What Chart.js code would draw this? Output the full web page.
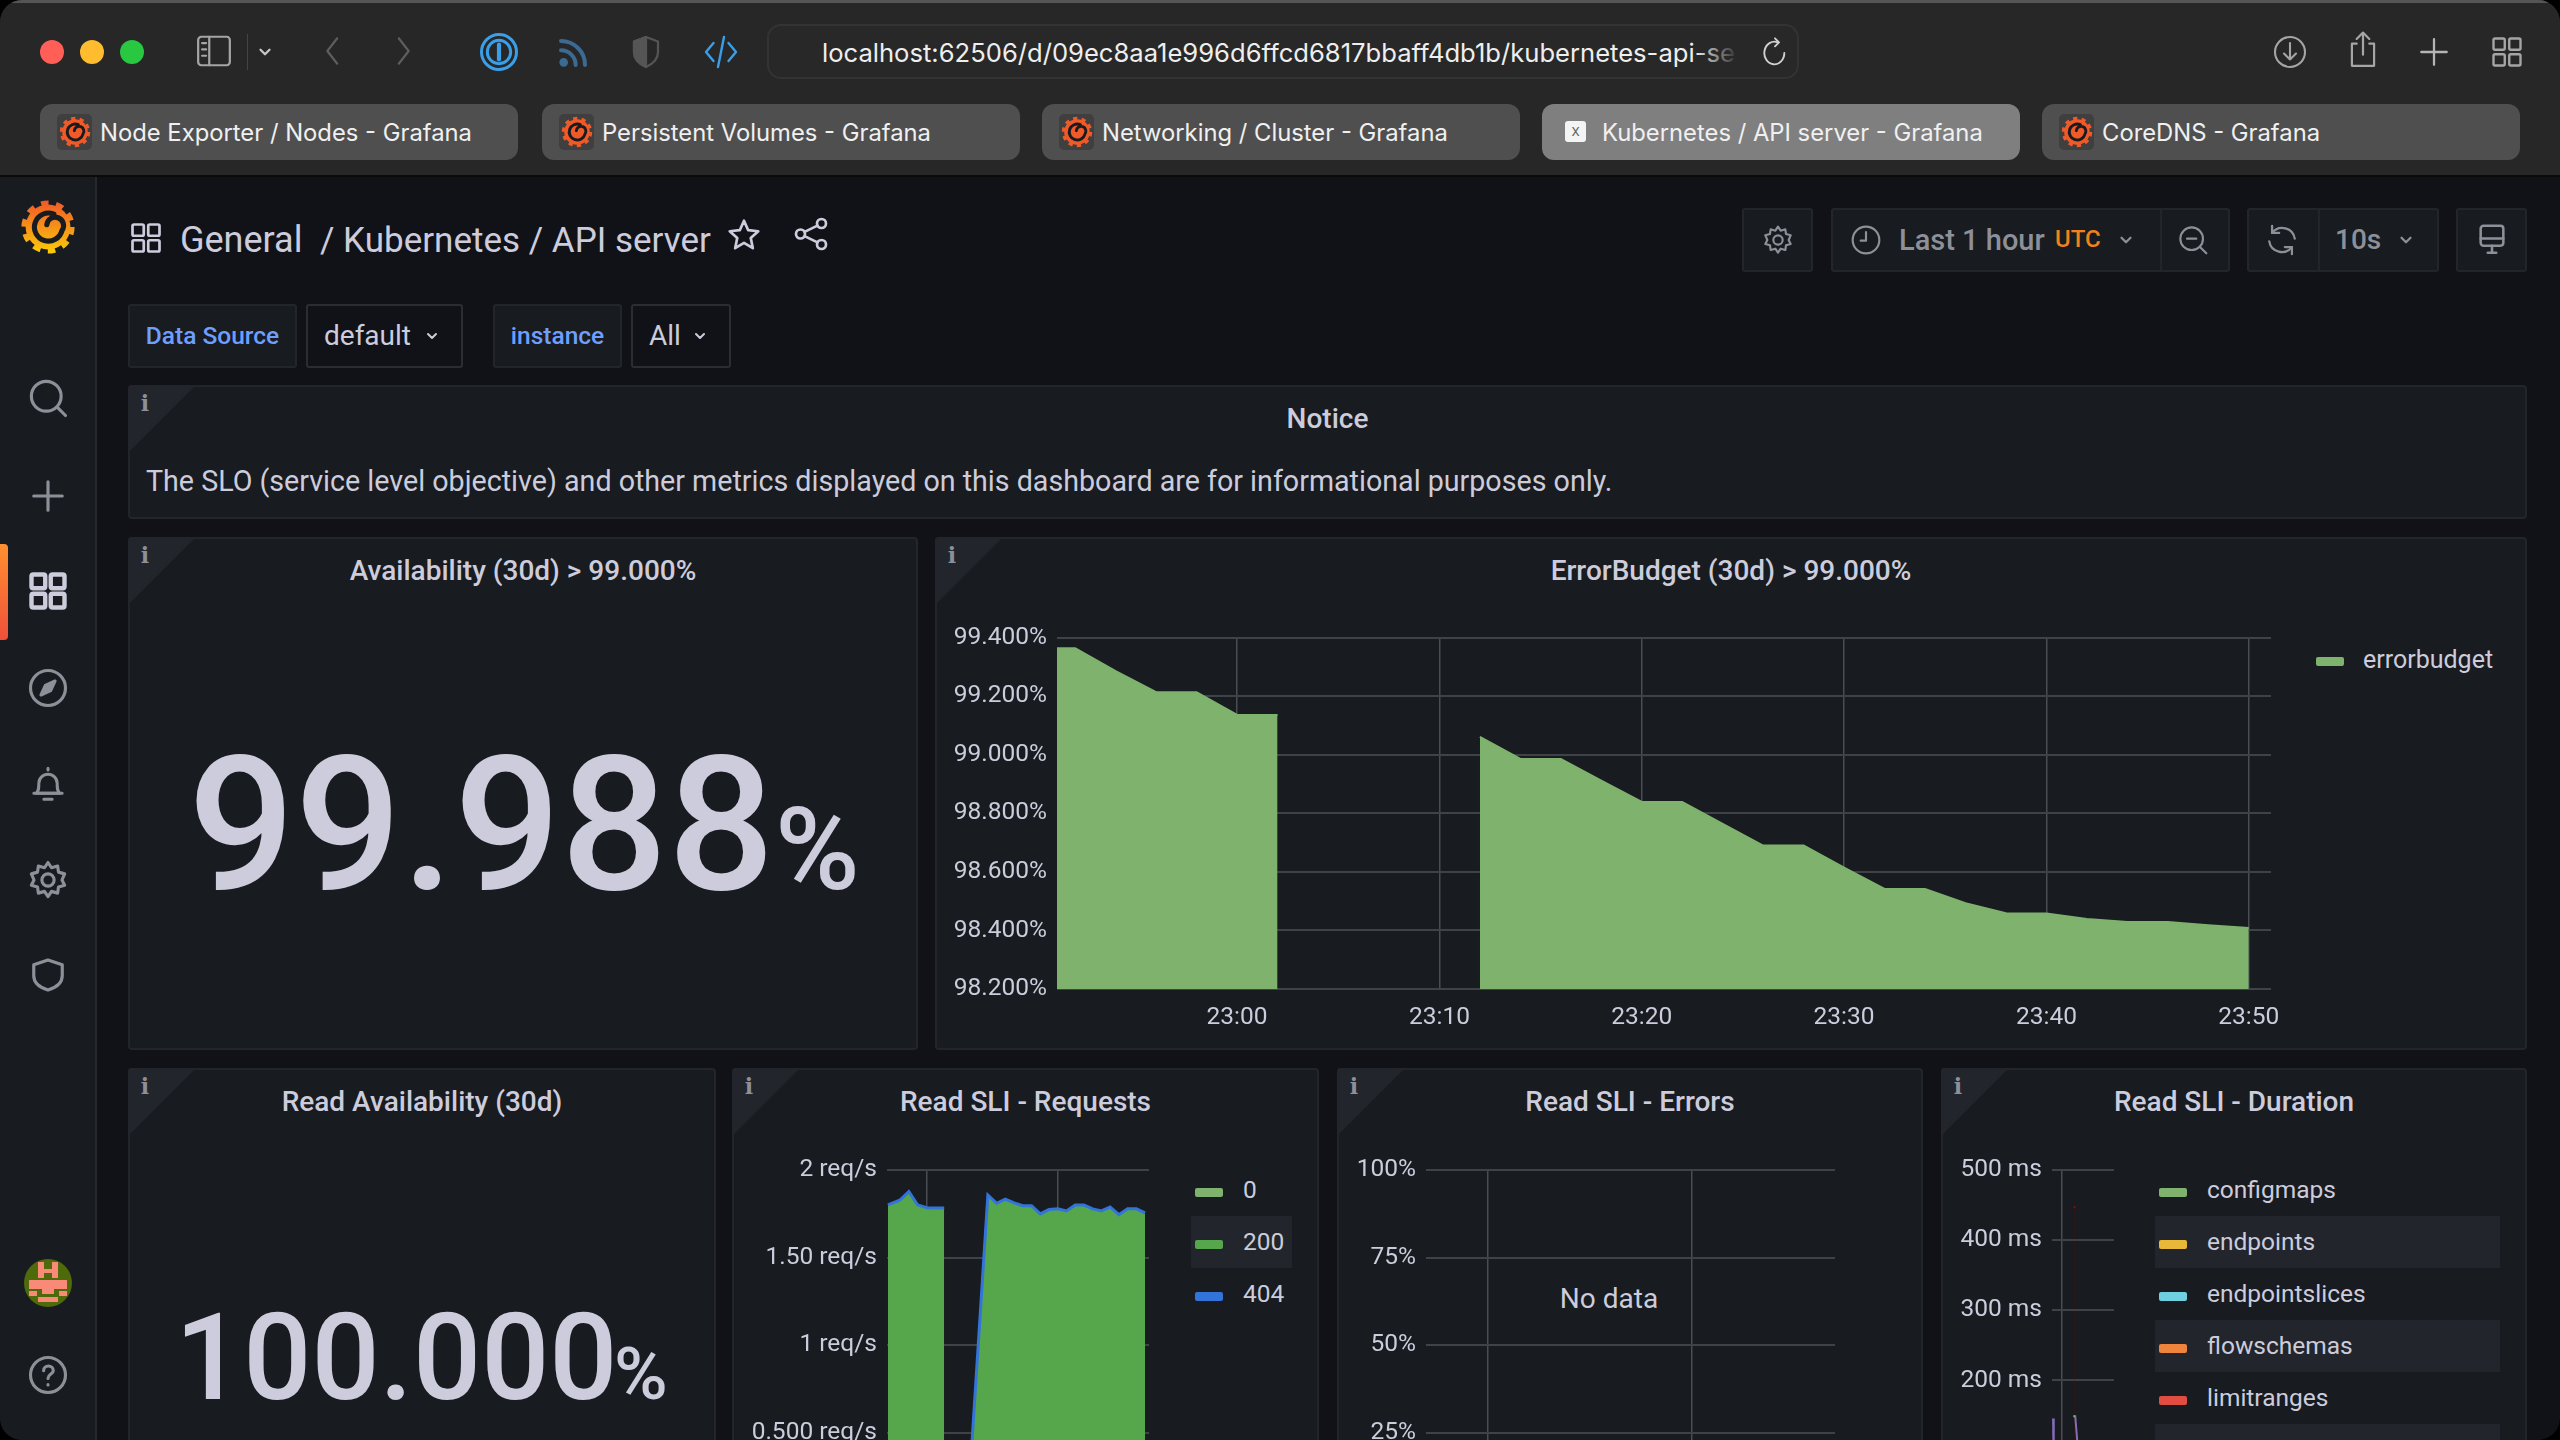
<!DOCTYPE html>
<html>
<head>
<meta charset="utf-8">
<title>Kubernetes / API server - Grafana</title>
<script src="https://cdn.jsdelivr.net/npm/chart.js@4"></script>
<style>
html, body { margin: 0; background: #000; overflow: hidden; width: 2560px; height: 1440px; }
#win { position: absolute; left: 0; top: 0; width: 2560px; height: 1440px; overflow: hidden; border-radius: 22px; background: #111217; font-family: Roboto, sans-serif; color: #ccccdc; }
#win div, #win canvas, #win svg { position: absolute; }
.t { white-space: pre; line-height: 1; }
</style>
</head>
<body>
<div id="win"></div>
<script>
// error budget panel, minutes relative to 23:00
var budgetMinutes = [-8.9, -8, -6, -4, -2, 0, 2, 7, 12, 14, 16, 18, 20, 22, 24, 26, 28, 30, 32, 34, 36, 38, 40, 42, 44, 46, 48, 50];
var budgetValues = [99.364, 99.364, 99.286, 99.214, 99.214, 99.136, 99.136, null, 99.061, 98.986, 98.986, 98.912, 98.839, 98.839, 98.764, 98.690, 98.690, 98.615, 98.542, 98.542, 98.493, 98.459, 98.458, 98.439, 98.429, 98.429, 98.418, 98.408];
var budgetYTicks = [98.2, 98.4, 98.6, 98.8, 99, 99.2, 99.4];
var budgetYLabels = ['98.200%', '98.400%', '98.600%', '98.800%', '99.000%', '99.200%', '99.400%'];
var budgetXTicks = [0, 10, 20, 30, 40, 50];
var budgetXLabels = ['23:00', '23:10', '23:20', '23:30', '23:40', '23:50'];

// read requests panel
var requestMinutes = [-8.9, -6.2, -4.1, -2.1, 0, 2, 4, 6, 9.2, 14, 16, 18, 20, 22, 24, 26, 28, 30, 32, 34, 36, 38, 40, 42, 44, 46, 48, 50];
var requests200 = [1.80, 1.826, 1.875, 1.80, 1.784, 1.782, 1.782, null, 0, 1.856, 1.809, 1.833, 1.811, 1.795, 1.795, 1.748, 1.773, 1.777, 1.765, 1.799, 1.799, 1.777, 1.765, 1.788, 1.744, 1.777, 1.777, 1.754];
var requests404 = [0, 0, 0, 0, 0, 0, 0, null, 0, 0, 0, 0, 0, 0, 0, 0, 0, 0, 0, 0, 0, 0, 0, 0, 0, 0, 0, 0];
var requests0 = [0, 0, 0, 0, 0, 0, 0, null, 0, 0, 0, 0, 0, 0, 0, 0, 0, 0, 0, 0, 0, 0, 0, 0, 0, 0, 0, 0];
var requestYTicks = [0, 0.5, 1, 1.5, 2];
var requestYLabels = ['0 req/s', '0.500 req/s', '1 req/s', '1.50 req/s', '2 req/s'];
var requestLegend = ['0', '200', '404'];
var requestColors = ['#7EB26D', '#56A64B', '#3274D9'];

// read errors panel
var errorYTicks = [0, 0.25, 0.5, 0.75, 1];
var errorYLabels = ['0%', '25%', '50%', '75%', '100%'];

// shared by the small panels
var smallXTicks = [0, 30];
var smallXLabels = ['23:00', '23:30'];

// read duration panel, only the parts above the window edge can be read
var durationMinutesA = [-8.7, -8, -7.4];
var durationPurpleA = [146, 100, 0];
var durationMagentaA = [130, 130, 0];
var durationMinutesB = [10.8, 12.8, 15.5, 18];
var durationPurpleB = [149, 149, 100, 0];
var durationGreenMinutes = [11.4, 12.6];
var durationGreen = [149, 149];
var durationPeakMinutes = [11.3, 13];
var durationPeak = [447, 447];
var durationYTicks = [0, 100, 200, 300, 400, 500];
var durationYLabels = ['0 ms', '100 ms', '200 ms', '300 ms', '400 ms', '500 ms'];
var durationLegend = ['configmaps', 'endpoints', 'endpointslices', 'flowschemas', 'limitranges'];
var durationColors = ['#7EB26D', '#EAB839', '#6ED0E0', '#EF843C', '#E24D42'];

var tabTitles = ['Node Exporter / Nodes - Grafana', 'Persistent Volumes - Grafana', 'Networking / Cluster - Grafana', 'Kubernetes / API server - Grafana', 'CoreDNS - Grafana'];

var win = document.getElementById('win');

function box(x, y, w, h, bg, extra) {
   var d = document.createElement('div');
   d.style.cssText = 'left:' + x + 'px;top:' + y + 'px;width:' + w + 'px;height:' + h + 'px;background:' + bg + ';' + (extra || '');
   win.appendChild(d);
   return d;
}

// x is left edge, or centre with align 'c'; y is the visual middle of the text
function txt(x, y, text, size, color, weight, align, family) {
   var d = document.createElement('div');
   d.className = 't';
   d.textContent = text;
   var tx = align == 'c' ? '-50%' : '0';
   d.style.cssText = 'left:' + x + 'px;top:' + y + 'px;font-size:' + size + 'px;color:' + (color || '#ccccdc') + ';font-weight:' + (weight || 400) +
      ';transform:translate(' + tx + ',-50%);' + (family ? 'font-family:' + family + ';' : '');
   win.appendChild(d);
   return d;
}

function icon(cx, cy, size, body, color, sw) {
   var s = document.createElementNS('http://www.w3.org/2000/svg', 'svg');
   s.setAttribute('viewBox', '0 0 24 24');
   s.setAttribute('width', size);
   s.setAttribute('height', size);
   s.style.left = (cx - size / 2) + 'px';
   s.style.top = (cy - size / 2) + 'px';
   s.style.fill = 'none';
   s.style.stroke = color;
   s.style.color = color;
   s.style.strokeWidth = sw || 1.8;
   s.style.strokeLinecap = 'round';
   s.style.strokeLinejoin = 'round';
   s.innerHTML = body;
   win.appendChild(s);
}

var ICONS = {
   chevDown: '<path d="M6 9l6 6 6-6"/>',
   left: '<path d="M15 3L8 12l7 9"/>',
   right: '<path d="M9 3l7 9-7 9"/>',
   grid: '<rect x="3" y="3" width="7.5" height="7.5" rx="1"/><rect x="13.5" y="3" width="7.5" height="7.5" rx="1"/><rect x="3" y="13.5" width="7.5" height="7.5" rx="1"/><rect x="13.5" y="13.5" width="7.5" height="7.5" rx="1"/>',
   search: '<circle cx="11" cy="11" r="8.5"/><path d="M17.2 17.2L22 22"/>',
   plus: '<path d="M12 3v18M3 12h18"/>',
   compass: '<circle cx="12" cy="12" r="10"/><path d="M16 8l-5.5 2.5L8 16l5.5-2.5z" fill="currentColor"/>',
   bell: '<path d="M5 17c1.5-1.5 1.5-3 1.5-6a5.5 5.5 0 0111 0c0 3 0 4.500 1.500 6z"/><path d="M3.500 17h17M9.500 20.500h5M12 3V2"/>',
   gear: '<circle cx="12" cy="12" r="3.5"/><path d="M12 2l2 3 3.500-1 .5 3.500 3.500 1-1.500 3.500 1.500 3-3.500 1-.5 3.500-3.500-1-2 3-2-3-3.500 1-.5-3.500-3.500-1 1.500-3-1.500-3.500 3.500-1 .5-3.500 3.500 1z"/>',
   shield: '<path d="M12 2.500l9 3v7c0 4.500-4 7.500-9 9-5-1.500-9-4.500-9-9v-7z"/>',
   help: '<circle cx="12" cy="12" r="10"/><path d="M9.500 9.500c0-3.500 5.500-3.500 5.500 0 0 2-3 2-3 4.500M12 17.500v.2"/>',
   star: '<path d="M12 2.500l2.800 6.300 6.700.7-5 4.500 1.400 6.800L12 17.300l-5.900 3.500 1.400-6.800-5-4.500 6.700-.7z"/>',
   share: '<circle cx="5" cy="12" r="3"/><circle cx="19" cy="5" r="3"/><circle cx="19" cy="19" r="3"/><path d="M7.700 10.600l8.600-4.200M7.700 13.400l8.600 4.200"/>',
   clock: '<circle cx="12" cy="12" r="10"/><path d="M12 6v6.500H8"/>',
   zoomOut: '<circle cx="11" cy="11" r="8.500"/><path d="M17.200 17.200L22 22M7.500 11h7"/>',
   refresh: '<path d="M5 7a9 9 0 0116 4M19 17A9 9 0 013 13"/><path d="M5 2v5h5M19 22v-5h-5"/>',
   monitor: '<rect x="4" y="2" width="16" height="14" rx="2"/><path d="M4 11h16M9 21h6M12 16v5"/>',
   reload: '<path d="M19 12a7.500 8.500 0 11-5-8"/><path d="M12 1l3 3-3 3"/>',
   download: '<circle cx="12" cy="12" r="10"/><path d="M12 6v11M8 13l4 4 4-4"/>',
   upload: '<path d="M8 8H5v14h14V8h-3M12 15V1M8 5l4-4 4 4"/>',
   sidebar: '<rect x="2" y="3" width="20" height="18" rx="2"/><path d="M9 3v18M4.500 7H7M4.500 11H7M4.500 15H7"/>',
   rss: '<circle cx="5" cy="19" r="2.500" fill="currentColor"/><path d="M3 10a11 11 0 0111 11M3 3a18 18 0 0118 18" stroke-width="3"/>',
   code: '<path d="M7 6l-5 6 5 6M17 6l5 6-5 6M14 2l-4 20"/>',
   shieldHalf: '<path d="M12 2l8 3v7c0 5-3.500 8-8 10-4.500-2-8-5-8-10V5z"/><path d="M12 2v20c-4.500-2-8-5-8-10V5z" fill="currentColor"/>',
   onePass: '<circle cx="12" cy="12" r="10.500"/><circle cx="12" cy="12" r="7"/><path d="M12 7.500v9" stroke-width="2.500"/>'
};

// grafana logo: toothed disc with a spiral
function logo(cx, cy, size, flat) {
   var fill = flat ? '#f05a28' : 'url(#gf)';
   var defs = flat ? '' : '<defs><linearGradient id="gf" gradientUnits="userSpaceOnUse" x1="12" y1="1" x2="12" y2="23"><stop offset="0" stop-color="#f05a28"/><stop offset="1" stop-color="#fbca0a"/></linearGradient></defs>';
   var s = document.createElementNS('http://www.w3.org/2000/svg', 'svg');
   s.setAttribute('viewBox', '0 0 24 24');
   s.setAttribute('width', size);
   s.setAttribute('height', size);
   s.style.left = (cx - size / 2) + 'px';
   s.style.top = (cy - size / 2) + 'px';
   s.innerHTML = defs + '<circle cx="12" cy="12" r="9.600" fill="' + fill + '"/><circle cx="12" cy="12" r="10.200" fill="none" stroke="' + fill + '" stroke-width="2.400" stroke-dasharray="3.200 3.200"/>' +
      '<path d="M14.500 6.500a6 6 0 10 3.500 7 3.600 3.600 0 10-6.500-2.500" fill="none" stroke="#181b1f" stroke-width="2.200" stroke-linecap="round"/>';
   win.appendChild(s);
}

// ---- browser chrome
box(0, 0, 2560, 176, '#272727');
box(0, 0, 2560, 3, '#555');
box(0, 175, 2560, 2, '#0a0a0a');
[['#ff5f57', 52], ['#febc2e', 91.5], ['#28c840', 131.5]].forEach(function(l) {
   box(l[1] - 12, 40, 24, 24, l[0], 'border-radius:50%');
});
icon(214, 51, 38, ICONS.sidebar, '#a5a5a5', 1.4);
box(247, 34, 1, 36, '#444');
icon(265, 52, 18, ICONS.chevDown, '#c8c8c8', 3);
icon(333, 51, 34, ICONS.left, '#5e5e5e', 1.5);
icon(403, 51, 34, ICONS.right, '#5e5e5e', 1.5);
icon(499, 52, 40, ICONS.onePass, '#3a9fe8', 1.8);
icon(573, 53, 32, ICONS.rss, '#3b6a92', 1.5);
icon(646, 52, 36, ICONS.shieldHalf, '#555', 1.5);
icon(721, 52, 36, ICONS.code, '#3a9fe8', 1.6);
box(767, 24, 1032, 55, '#282828', 'box-sizing:border-box;border:2px solid #333;border-radius:14px');
txt(822, 53, 'localhost:62506/d/09ec8aa1e996d6ffcd6817bbaff4db1b/kubernetes-api-se', 25.6, '#eeeeee', 400, 'l', 'Inter');
box(1695, 30, 44, 44, 'linear-gradient(90deg,rgba(40,40,40,0),#282828)');
box(1739, 30, 20, 44, '#282828');
icon(1775, 53, 32, ICONS.reload, '#d0d0d0', 1.4);
icon(2290, 52, 36, ICONS.download, '#a5a5a5', 1.4);
icon(2363, 50, 38, ICONS.upload, '#a5a5a5', 1.4);
icon(2434, 52, 34, ICONS.plus, '#b5b5b5', 1.6);
icon(2507, 52, 36, ICONS.grid, '#a5a5a5', 1.6);

var tabLefts = [40, 542, 1042, 1542, 2042];
tabTitles.forEach(function(title, i) {
   var active = i == 3;
   box(tabLefts[i], 104, 478, 56, active ? '#7f7f7f' : '#4f4f4f', 'border-radius:12px');
   if (active) {
      box(tabLefts[i] + 23, 121, 21, 21, '#f4f4f4', 'border-radius:3px');
      txt(tabLefts[i] + 33.500, 131, 'X', 13, '#666', 400, 'c');
   } else {
      box(tabLefts[i] + 17, 114, 35, 36, '#3f3f3f', 'border-radius:5px');
      logo(tabLefts[i] + 34.500, 132, 32, true);
   }
   txt(tabLefts[i] + 60, 133, title, 23.8, '#f0f0f0', 400, 'l', 'Inter');
});

// ---- grafana sidebar
box(0, 177, 96, 1263, '#181b1f');
box(95, 177, 2, 1263, '#25282e');
box(0, 544, 8, 96, 'linear-gradient(#ff9030,#f0503a)', 'border-radius:0 4px 4px 0');
logo(48, 227, 56, false);
icon(48, 398, 42, ICONS.search, '#8e9099', 1.8);
icon(48, 496, 38, ICONS.plus, '#8e9099', 2);
icon(48, 591, 44, ICONS.grid, '#ccccdc', 2.4);
icon(48, 688, 42, ICONS.compass, '#8e9099', 1.8);
icon(48, 785, 40, ICONS.bell, '#8e9099', 1.8);
icon(48, 880, 42, ICONS.gear, '#8e9099', 1.8);
icon(48, 975, 38, ICONS.shield, '#8e9099', 2);
box(24, 1259, 48, 48, '#4f6a0a', 'border-radius:50%');
[[38, 1262, 6, 16], [52, 1262, 6, 16], [38, 1269, 20, 4], [29, 1280, 38, 9], [42, 1289, 12, 5], [38, 1297, 20, 5], [29, 1291, 8, 5], [59, 1291, 8, 5]].forEach(function(r) {
   box(r[0], r[1], r[2], r[3], '#f98a78');
});
icon(48, 1375, 42, ICONS.help, '#8e9099', 1.8);

// ---- dashboard header
icon(146, 238, 36, ICONS.grid, '#ccccdc', 1.8);
txt(180, 240, 'General', 36, '#ccccdc');
txt(320, 240, '/ Kubernetes / API server', 35, '#ccccdc');
icon(744, 235, 36, ICONS.star, '#ccccdc', 1.8);
icon(811, 234, 36, ICONS.share, '#ccccdc', 1.8);

function varBox(x, w, label) {
   box(x, 304, w, 64, '#181b1f', 'box-sizing:border-box;border:2px solid #22252b;border-radius:3px');
   txt(x + w / 2, 336, label, 24.5, '#6e9fff', 500, 'c');
}
function varSelect(x, w, label) {
   box(x, 304, w, 64, '#111217', 'box-sizing:border-box;border:2px solid #2a2d33;border-radius:3px');
   txt(x + 18, 336, label, 28, '#ccccdc');
   icon(x + w - 31, 336, 16, ICONS.chevDown, '#ccccdc', 3);
}
varBox(128, 169, 'Data Source');
varSelect(306, 157, 'default');
varBox(493, 129, 'instance');
varSelect(631, 100, 'All');

function toolBtn(x, w) {
   box(x, 208, w, 64, '#181b1f', 'box-sizing:border-box;border:2px solid #22252b;border-radius:3px');
}
toolBtn(1742, 71);
icon(1778, 240, 32, ICONS.gear, '#8e9099', 1.6);
toolBtn(1831, 399);
box(2160, 210, 2, 60, '#22252b');
icon(1866, 240, 32, ICONS.clock, '#8e9099', 1.6);
txt(1899, 240, 'Last 1 hour', 29, '#8e9099', 500);
txt(2055, 239, 'UTC', 24, '#f2801c', 500);
icon(2126, 240, 18, ICONS.chevDown, '#8e9099', 3);
icon(2193, 240, 32, ICONS.zoomOut, '#8e9099', 1.6);
toolBtn(2247, 192);
box(2318, 210, 2, 60, '#22252b');
icon(2282, 240, 34, ICONS.refresh, '#8e9099', 1.6);
txt(2335, 240, '10s', 28, '#8e9099', 500);
icon(2406, 240, 18, ICONS.chevDown, '#8e9099', 3);
toolBtn(2456, 71);
icon(2492, 240, 34, ICONS.monitor, '#8e9099', 1.8);

// ---- panels
function panel(x, y, w, h, title) {
   box(x, y, w, h, '#181b1f', 'box-sizing:border-box;border:2px solid #22252b;border-radius:4px');
   box(x, y, 68, 68, '#22252b', 'clip-path:polygon(0 0,100% 0,0 100%);border-radius:4px 0 0 0');
   txt(x + 17, y + 18, 'i', 22, '#8e9099', 700, 'c', 'DejaVu Serif');
   txt(x + w / 2, y + 34, title, 28, '#ccccdc', 500, 'c');
}
panel(128, 385, 2399, 134, 'Notice');
txt(146, 481, 'The SLO (service level objective) and other metrics displayed on this dashboard are for informational purposes only.', 28.65, '#ccccdc');
panel(128, 537, 790, 513, 'Availability (30d) > 99.000%');
panel(935, 537, 1592, 513, 'ErrorBudget (30d) > 99.000%');
panel(128, 1068, 588, 500, 'Read Availability (30d)');
panel(732, 1068, 587, 500, 'Read SLI - Requests');
panel(1337, 1068, 586, 500, 'Read SLI - Errors');
panel(1941, 1068, 586, 500, 'Read SLI - Duration');

txt(188, 825, '99.988', 188, '#ccccdc', 500);
txt(775, 849, '%', 115, '#ccccdc', 500);
txt(175, 1358, '100.000', 120, '#ccccdc', 500);
txt(614, 1374, '%', 73, '#ccccdc', 500);
txt(1609, 1299, 'No data', 28, '#ccccdc', 400, 'c');

// ---- legends
function legendRow(swatchX, textX, y, name, color, size) {
   box(swatchX, y - 2, 28, 9, color, 'border-radius:2px');
   txt(textX, y, name, size || 24.500, '#ccccdc');
}
legendRow(2316, 2363, 659, 'errorbudget', '#7EB26D', 25);

box(1191, 1216, 101, 52, '#22252b');
requestLegend.forEach(function(name, i) {
   legendRow(1195, 1243, 1190 + i * 52, name, requestColors[i]);
});

box(2155, 1216, 345, 52, '#22252b');
box(2155, 1320, 345, 52, '#22252b');
box(2155, 1424, 345, 52, '#22252b');
durationLegend.forEach(function(name, i) {
   legendRow(2159, 2207, 1190 + i * 52, name, durationColors[i]);
});

// ---- charts
function makeChart(plot, xMin, xMax, xTicks, xLabels, yMax, yMin, yTicks, yLabels, axisW, datasets, stacked) {
   var padTop = 24, padRight = 44, xH = 56;
   var c = document.createElement('canvas');
   c.width = plot.right - plot.left + axisW + padRight;
   c.height = plot.bottom - plot.top + padTop + xH;
   c.style.left = (plot.left - axisW) + 'px';
   c.style.top = (plot.top - padTop) + 'px';
   win.appendChild(c);
   var tickFont = { family: 'Roboto', size: 24.5 };
   return new Chart(c.getContext('2d'), {
      type: 'line',
      data: { datasets: datasets },
      options: {
         responsive: false,
         animation: false,
         events: [],
         layout: { padding: { top: padTop, right: padRight, left: 0, bottom: 0 } },
         elements: { point: { radius: 0 }, line: { tension: 0 } },
         plugins: { legend: { display: false }, tooltip: { enabled: false }, filler: { drawTime: 'beforeDatasetsDraw' } },
         scales: {
            x: {
               type: 'linear',
               min: xMin,
               max: xMax,
               afterFit: function(s) { s.height = xH; },
               afterBuildTicks: function(s) { s.ticks = xTicks.map(function(v) { return { value: v }; }); },
               grid: { color: '#4a4d52', lineWidth: 1.5, drawTicks: false },
               border: { display: false },
               ticks: {
                  color: '#ccccdc', font: tickFont, padding: 14, autoSkip: false, maxRotation: 0,
                  callback: function(v, i) { return xLabels[i]; }
               }
            },
            y: {
               min: yMin,
               max: yMax,
               stacked: !!stacked,
               afterFit: function(s) { s.width = axisW; },
               afterBuildTicks: function(s) { s.ticks = yTicks.map(function(v) { return { value: v }; }); },
               grid: { color: '#3f4246', lineWidth: 2, drawTicks: false },
               border: { display: false },
               ticks: {
                  color: '#ccccdc', font: tickFont, padding: 10, autoSkip: false,
                  callback: function(v, i) { return yLabels[i]; }
               }
            }
         }
      }
   });
}

function pts(xs, ys) {
   return xs.map(function(x, i) { return { x: x, y: ys[i] }; });
}

makeChart({ left: 1057, right: 2271, top: 637, bottom: 989 }, -8.9, 51.1, budgetXTicks, budgetXLabels, 99.4, 98.2, budgetYTicks, budgetYLabels, 110, [
   { label: 'errorbudget', data: pts(budgetMinutes, budgetValues), borderColor: '#7EB26D', backgroundColor: '#7EB26D', borderWidth: 2, fill: 'start' }
]);

makeChart({ left: 887, right: 1149, top: 1169, bottom: 1521 }, -9.1, 50.9, smallXTicks, smallXLabels, 2, 0, requestYTicks, requestYLabels, 140, [
   { label: requestLegend[0], data: pts(requestMinutes, requests0), borderColor: requestColors[0], borderWidth: 2, fill: false },
   { label: requestLegend[1], data: pts(requestMinutes, requests200), borderColor: requestColors[1], backgroundColor: requestColors[1], borderWidth: 0, fill: 'origin' },
   { label: requestLegend[2], data: pts(requestMinutes, requests404), borderColor: requestColors[2], borderWidth: 3, fill: false }
], true);

makeChart({ left: 1426, right: 1835, top: 1169, bottom: 1521 }, -9, 51, smallXTicks, smallXLabels, 1, 0, errorYTicks, errorYLabels, 90, []);

makeChart({ left: 2052, right: 2114, top: 1169, bottom: 1521 }, -9.7, 50.3, [0], ['23:00'], 500, 0, durationYTicks, durationYLabels, 120, [
   { label: 'peak', data: pts(durationPeakMinutes, durationPeak), borderColor: '#8a0f02', backgroundColor: 'rgba(137,15,2,0.16)', borderWidth: 2, fill: 'origin' },
   { label: 'green', data: pts(durationGreenMinutes, durationGreen), borderColor: '#7EB26D', borderWidth: 2, fill: false },
   { label: 'purpleA', data: pts(durationMinutesA, durationPurpleA), borderColor: '#806EB7', borderWidth: 2, fill: false },
   { label: 'purpleB', data: pts(durationMinutesB, durationPurpleB), borderColor: '#806EB7', borderWidth: 2, fill: false },
   { label: 'magenta', data: pts(durationMinutesA, durationMagentaA), borderColor: '#BA43A9', backgroundColor: '#BA43A9', borderWidth: 1, fill: 'origin' }
]);
</script>
</body>
</html>
